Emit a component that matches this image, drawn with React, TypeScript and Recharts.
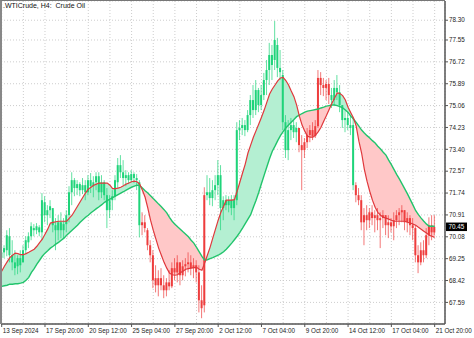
import React from "react"
import { ComposedChart, Area, Bar, Line, XAxis, YAxis, CartesianGrid, ReferenceLine } from "recharts"

// WTICrude H4 candles, 13 Sep 2024 .. 21 Oct 2024
const opens = [
  69.27, 69.49, 69.57, 70.10, 69.38, 69.11, 68.96, 69.27, 69.11, 69.57,
  69.87, 70.10, 70.41, 70.33, 70.44, 70.25, 71.39, 70.90, 71.09, 71.17,
  70.52, 70.33, 70.63, 70.33, 70.56, 70.90, 71.77, 72.23, 71.93, 72.08,
  71.85, 72.04, 71.77, 72.23, 72.00, 72.15, 72.38, 71.77, 72.15, 71.66,
  71.09, 71.47, 71.62, 72.15, 72.80, 72.53, 72.31, 72.42, 72.23, 72.46,
  72.31, 72.15, 70.52, 70.63, 70.33, 69.76, 69.38, 68.51, 68.24, 68.51,
  68.24, 68.05, 68.35, 68.20, 68.89, 68.73, 69.11, 68.62, 68.96, 69.04,
  69.11, 68.89, 69.00, 68.73, 67.67, 67.48, 71.66, 71.77, 71.55, 71.85,
  72.04, 72.42, 71.17, 71.47, 71.28, 71.47, 71.17, 71.47, 74.13, 74.21,
  74.32, 74.13, 74.70, 75.27, 74.89, 75.65, 75.08, 75.46, 76.03, 76.41,
  76.98, 76.79, 77.36, 76.49, 76.22, 74.43, 73.37, 74.13, 74.32, 74.05,
  74.21, 73.56, 73.37, 73.67, 73.94, 74.13, 73.90, 74.28, 76.11, 75.84,
  75.73, 75.88, 75.46, 75.27, 75.73, 75.57, 75.08, 74.51, 74.59, 74.32,
  74.32, 72.04, 71.66, 71.47, 70.63, 70.90, 70.71, 71.01, 70.79, 70.90,
  70.71, 70.79, 70.90, 70.52, 70.63, 70.48, 70.71, 70.90, 71.01, 71.09,
  70.63, 70.79, 70.52, 70.41, 69.38, 69.11, 69.57, 69.38, 70.14, 70.52,
  70.25,
]
const highs = [
  69.65, 69.76, 70.33, 70.41, 69.95, 69.57, 69.38, 69.57, 69.76, 70.10,
  70.25, 70.63, 70.56, 70.60, 70.52, 71.74, 71.62, 71.28, 71.47, 71.09,
  70.79, 70.90, 71.01, 70.79, 71.09, 72.00, 72.53, 72.31, 72.23, 72.15,
  72.31, 72.23, 72.42, 72.50, 72.38, 72.53, 72.53, 72.42, 72.23, 71.93,
  71.66, 71.85, 72.42, 73.07, 73.18, 72.99, 72.61, 72.53, 72.61, 72.53,
  72.46, 72.23, 71.01, 70.90, 70.41, 69.95, 69.57, 69.00, 68.81, 68.89,
  68.62, 68.51, 68.81, 69.11, 69.27, 69.38, 69.11, 69.19, 69.27, 69.49,
  69.38, 69.27, 69.19, 69.00, 68.24, 71.96, 72.42, 72.31, 72.23, 72.42,
  72.99, 72.80, 71.62, 71.66, 71.62, 71.66, 71.66, 74.43, 74.51, 74.59,
  74.51, 74.89, 75.46, 75.84, 76.03, 75.73, 75.84, 76.30, 76.79, 77.44,
  77.36, 78.27, 77.63, 77.17, 76.41, 74.70, 74.51, 74.59, 74.51, 74.43,
  74.21, 73.94, 73.83, 74.21, 74.32, 74.43, 74.51, 76.41, 76.33, 76.11,
  76.03, 76.11, 75.73, 76.03, 76.22, 75.84, 75.08, 74.89, 74.81, 74.70,
  74.59, 72.15, 71.93, 71.66, 71.17, 71.28, 71.17, 71.28, 71.09, 71.17,
  71.01, 71.09, 70.90, 70.90, 70.79, 71.01, 71.09, 71.17, 71.28, 71.09,
  71.01, 70.90, 70.79, 70.52, 69.76, 69.87, 69.95, 70.41, 70.82, 70.90,
  70.90,
]
const lows = [
  69.11, 69.27, 69.34, 69.11, 68.81, 68.62, 68.66, 68.73, 69.11, 69.42,
  69.65, 69.95, 70.10, 70.18, 70.10, 69.95, 70.63, 70.52, 70.79, 70.25,
  69.57, 69.95, 70.03, 70.03, 70.25, 70.63, 71.28, 71.62, 71.66, 71.62,
  71.70, 71.47, 71.66, 71.74, 71.58, 71.85, 71.47, 71.55, 71.47, 70.41,
  70.79, 71.09, 71.47, 71.93, 72.31, 72.04, 72.00, 72.08, 72.15, 72.12,
  71.85, 70.06, 70.14, 70.25, 69.57, 69.11, 68.13, 67.97, 67.82, 68.05,
  67.75, 67.82, 68.05, 68.13, 68.43, 68.35, 68.24, 68.43, 68.58, 68.73,
  68.62, 68.51, 68.35, 67.21, 66.99, 67.21, 71.47, 71.28, 71.24, 71.47,
  71.66, 70.33, 70.71, 71.09, 71.01, 70.90, 70.71, 71.28, 73.75, 73.94,
  73.90, 74.05, 74.32, 74.59, 74.70, 74.81, 74.89, 75.27, 75.46, 75.84,
  76.03, 76.41, 76.14, 76.03, 74.13, 73.07, 72.99, 73.75, 73.83, 73.67,
  73.29, 71.85, 73.07, 73.45, 73.67, 73.75, 73.83, 74.21, 75.46, 75.42,
  75.27, 75.12, 74.97, 75.08, 75.27, 74.81, 74.21, 74.05, 74.13, 73.94,
  71.85, 71.39, 71.28, 70.33, 69.76, 70.33, 70.41, 70.52, 70.25, 70.33,
  69.65, 70.41, 70.14, 70.03, 70.25, 69.95, 70.41, 70.52, 70.63, 70.33,
  70.25, 70.14, 69.95, 69.11, 68.70, 69.00, 69.11, 69.27, 69.76, 69.95,
  70.14,
]
const closes = [
  69.49, 69.65, 70.14, 69.38, 69.11, 68.89, 69.27, 69.00, 69.57, 69.95,
  70.10, 70.48, 70.33, 70.48, 70.25, 71.47, 70.90, 71.09, 71.24, 70.52,
  70.33, 70.63, 70.33, 70.56, 70.90, 71.77, 72.23, 71.93, 72.08, 71.85,
  72.04, 71.77, 72.23, 72.00, 72.15, 72.38, 71.77, 72.15, 71.66, 71.09,
  71.47, 71.62, 72.23, 72.80, 72.53, 72.31, 72.42, 72.23, 72.46, 72.31,
  72.23, 70.52, 70.63, 70.41, 69.76, 69.38, 68.43, 68.24, 68.51, 68.24,
  68.05, 68.35, 68.20, 68.89, 68.73, 69.11, 68.62, 68.96, 69.04, 69.11,
  68.89, 69.00, 68.73, 67.67, 67.37, 71.66, 71.77, 71.55, 71.85, 72.04,
  72.42, 71.17, 71.47, 71.28, 71.47, 71.17, 71.47, 74.13, 74.21, 74.32,
  74.13, 74.70, 75.27, 74.89, 75.65, 75.08, 75.46, 76.03, 76.41, 76.98,
  76.60, 77.55, 76.49, 76.33, 74.43, 73.37, 74.13, 74.32, 74.05, 74.21,
  73.56, 73.37, 73.67, 73.94, 74.13, 73.90, 74.28, 76.11, 75.84, 75.73,
  75.88, 75.46, 75.27, 75.73, 75.57, 75.08, 74.51, 74.59, 74.32, 74.21,
  72.04, 71.66, 71.47, 70.63, 70.90, 70.71, 71.01, 70.79, 70.90, 70.71,
  70.79, 70.90, 70.52, 70.63, 70.48, 70.71, 70.90, 71.01, 71.09, 70.63,
  70.79, 70.52, 70.41, 69.38, 69.11, 69.57, 69.38, 70.14, 70.52, 70.25,
  70.45,
]
// fast (red) and slow (green) moving averages
const fastMa = [
  68.77, 68.96, 69.13, 69.29, 69.38, 69.46, 69.44, 69.40, 69.40, 69.44,
  69.49, 69.55, 69.61, 69.72, 69.86, 69.99, 70.18, 70.37, 70.60, 70.63,
  70.65, 70.67, 70.67, 70.67, 70.67, 70.79, 70.90, 71.07, 71.24, 71.41,
  71.58, 71.75, 71.89, 71.96, 72.04, 72.08, 72.12, 72.12, 72.12, 72.12,
  72.04, 71.91, 71.91, 71.93, 71.96, 72.02, 72.08, 72.12, 72.17, 72.19,
  72.17, 72.08, 71.85, 71.58, 71.17, 70.71, 70.33, 69.99, 69.65, 69.38,
  69.11, 68.89, 68.70, 68.64, 68.62, 68.64, 68.72, 68.77, 68.85, 68.87,
  68.89, 68.91, 68.92, 68.85, 68.81, 69.08, 69.38, 69.68, 70.03, 70.37,
  70.71, 71.01, 71.24, 71.47, 71.47, 71.47, 71.49, 71.81, 72.15, 72.50,
  72.84, 73.26, 73.56, 73.86, 74.11, 74.36, 74.62, 74.89, 75.19, 75.50,
  75.69, 75.84, 76.00, 76.11, 76.13, 76.01, 75.84, 75.61, 75.40, 75.08,
  74.66, 74.32, 74.09, 73.90, 73.86, 73.86, 73.94, 74.07, 74.24, 74.47,
  74.68, 74.91, 75.14, 75.35, 75.54, 75.52, 75.44, 75.27, 75.00, 74.79,
  74.59, 74.28, 73.71, 73.26, 72.65, 72.19, 71.81, 71.47, 71.20, 71.01,
  70.90, 70.82, 70.79, 70.75, 70.71, 70.67, 70.67, 70.67, 70.67, 70.67,
  70.63, 70.60, 70.56, 70.52, 70.44, 70.37, 70.29, 70.22, 70.14, 70.10,
  70.06,
]
const slowMa = [
  68.20, 68.22, 68.24, 68.28, 68.28, 68.30, 68.30, 68.32, 68.35, 68.43,
  68.54, 68.73, 68.87, 69.04, 69.19, 69.34, 69.46, 69.55, 69.65, 69.72,
  69.80, 69.87, 69.95, 70.03, 70.14, 70.23, 70.33, 70.42, 70.52, 70.63,
  70.73, 70.82, 70.90, 70.99, 71.07, 71.15, 71.22, 71.30, 71.39, 71.45,
  71.51, 71.57, 71.62, 71.68, 71.74, 71.79, 71.85, 71.91, 71.96, 72.00,
  72.04, 72.02, 71.93, 71.83, 71.74, 71.64, 71.53, 71.43, 71.32, 71.22,
  71.11, 70.99, 70.82, 70.67, 70.56, 70.46, 70.37, 70.27, 70.18, 70.08,
  69.95, 69.84, 69.68, 69.51, 69.34, 69.19, 69.21, 69.25, 69.29, 69.34,
  69.38, 69.44, 69.51, 69.61, 69.72, 69.84, 69.97, 70.10, 70.25, 70.41,
  70.58, 70.75, 70.92, 71.20, 71.47, 71.77, 72.10, 72.42, 72.74, 73.05,
  73.33, 73.52, 73.73, 73.92, 74.07, 74.21, 74.32, 74.43, 74.53, 74.64,
  74.70, 74.76, 74.81, 74.85, 74.87, 74.89, 74.91, 74.93, 74.97, 75.00,
  75.04, 75.06, 75.08, 75.08, 75.06, 75.02, 74.97, 74.89, 74.80, 74.66,
  74.55, 74.42, 74.28, 74.13, 74.02, 73.92, 73.83, 73.73, 73.64, 73.52,
  73.41, 73.29, 73.18, 72.99, 72.82, 72.63, 72.44, 72.27, 72.08, 71.89,
  71.70, 71.49, 71.28, 71.07, 70.92, 70.79, 70.67, 70.56, 70.48, 70.48,
  70.48,
]

const xTickLabels = [
  "13 Sep 2024", "17 Sep 20:00", "20 Sep 12:00", "25 Sep 04:00", "27 Sep 20:00", "2 Oct 12:00",
  "7 Oct 04:00", "9 Oct 20:00", "14 Oct 12:00", "17 Oct 04:00", "21 Oct 20:00",
]
const priceTicks = [67.59, 68.42, 69.25, 70.08, 70.91, 71.74, 72.57, 73.4, 74.23, 75.06, 75.89, 76.72, 77.55, 78.3]

const GREEN = "#1fd47a"
const RED = "#ee3d3d"
const FONT = "'Liberation Sans', Arial, sans-serif"

const rows = opens.map((o, i) => ({
  i,
  open: o,
  high: highs[i],
  low: lows[i],
  close: closes[i],
  range: [lows[i], highs[i]],
  fast: fastMa[i],
  slow: slowMa[i],
  upFill: [slowMa[i], Math.max(fastMa[i], slowMa[i])],
  downFill: [Math.min(fastMa[i], slowMa[i]), slowMa[i]],
}))

const gridTicks = rows.filter((r) => r.i % 8 === 0).map((r) => r.i)

function Candle(props: any) {
  const { x, y, width, height, payload } = props
  if (!payload || height == null) return null
  const top = Math.min(y, y + height)
  const h = Math.abs(height)
  const k = h / (payload.high - payload.low || 1)
  const cx = x + width / 2
  const yo = top + (payload.high - payload.open) * k
  const yc = top + (payload.high - payload.close) * k
  const col = payload.fast >= payload.slow ? GREEN : RED
  return (
    <g>
      <line x1={cx} x2={cx} y1={top} y2={top + h} stroke={col} strokeOpacity={0.7} strokeWidth={1} />
      <rect x={cx - 1} y={Math.min(yo, yc)} width={2} height={Math.max(Math.abs(yc - yo), 1)} fill={col} />
    </g>
  )
}

function XTick(props: any) {
  const { x, y, payload } = props
  const v = payload.value
  if (v % 16 !== 0) return null
  return (
    <g>
      <line x1={x} x2={x} y1={y} y2={y + 3} stroke="#555" />
      <text x={x + 1} y={y + 9} fontSize={6.3} fontFamily={FONT} fill="#222">
        {xTickLabels[v / 16]}
      </text>
    </g>
  )
}

function PriceTag(props: any) {
  const vb = props.viewBox
  if (!vb) return null
  const left = vb.x + vb.width + 1
  return (
    <g>
      <rect x={left} y={vb.y - 4.5} width={21} height={8.5} fill="#000" />
      <text x={left + 2.5} y={vb.y + 2.2} fontSize={6.3} fontFamily={FONT} fill="#fff">
        {closes[closes.length - 1].toFixed(2)}
      </text>
    </g>
  )
}

export default function App() {
  return (
    <div style={{ position: "absolute", left: 0, top: 0, width: 474, height: 338, background: "#fff" }}>
      <ComposedChart width={474} height={338} data={rows} margin={{ top: 1, right: 0, bottom: 0, left: 1 }}>
        <CartesianGrid stroke="#cdcdcd" strokeDasharray="1 2" />
        <XAxis
          dataKey="i"
          type="number"
          domain={[-0.26, 163.82]}
          allowDataOverflow
          ticks={gridTicks}
          interval={0}
          tick={<XTick />}
          tickLine={false}
          tickSize={0}
          tickMargin={0}
          height={14}
          axisLine={{ stroke: "#555", strokeWidth: 1.5 }}
        />
        <YAxis
          orientation="right"
          type="number"
          domain={[66.77, 79.03]}
          allowDataOverflow
          ticks={priceTicks}
          interval={0}
          width={29}
          tickSize={3}
          tickMargin={1}
          tickFormatter={(v: number) => v.toFixed(2)}
          tick={{ fontSize: 6.3, fill: "#222", fontFamily: FONT }}
          tickLine={{ stroke: "#555" }}
          axisLine={{ stroke: "#555", strokeWidth: 1.5 }}
        />
        <Area dataKey="upFill" type="linear" stroke="none" fill="#b4efd2" fillOpacity={1} isAnimationActive={false} />
        <Area dataKey="downFill" type="linear" stroke="none" fill="#ffc8c8" fillOpacity={1} isAnimationActive={false} />
        <Bar dataKey="range" barSize={2} shape={(p: any) => <Candle {...p} />} isAnimationActive={false} />
        <Line dataKey="slow" type="linear" stroke="#22c46c" strokeWidth={1.4} dot={false} isAnimationActive={false} />
        <Line dataKey="fast" type="linear" stroke="#e0383c" strokeWidth={1.2} dot={false} isAnimationActive={false} />
        <ReferenceLine
          y={closes[closes.length - 1]}
          stroke="none"
          ifOverflow="visible"
          label={(p: any) => <PriceTag {...p} />}
        />
      </ComposedChart>
      <div
        style={{
          position: "absolute",
          left: 0,
          top: 0,
          width: 445,
          height: 324,
          boxSizing: "border-box",
          borderTop: "1px solid #777",
          borderLeft: "2px solid #888",
          pointerEvents: "none",
        }}
      />
      <div
        style={{
          position: "absolute",
          left: 3,
          top: 2,
          fontSize: 7,
          lineHeight: "8px",
          fontFamily: FONT,
          color: "#111",
          whiteSpace: "pre",
        }}
      >
        {".WTICrude, H4:  Crude Oil"}
      </div>
    </div>
  )
}
